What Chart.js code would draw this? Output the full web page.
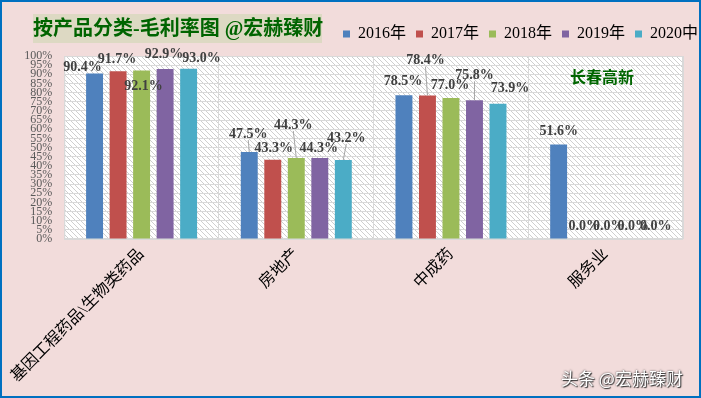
<!DOCTYPE html>
<html>
<head>
<meta charset="utf-8">
<script src="https://cdn.jsdelivr.net/npm/chart.js@4"></script>
<style>
  html, body { margin: 0; padding: 0; }
  body { width: 701px; height: 398px; overflow: hidden; background: #F2DCDB; }
  #wrap { position: relative; width: 701px; height: 398px; box-sizing: border-box; border: 2px solid #0070C0; }
  #chart { position: absolute; left: -2px; top: -2px; }
  .title {
    position: absolute; left: 31px; top: 12px; width: 289px; height: 29px;
    background: #DDD9C3; color: #006400; font: bold 20px "Liberation Serif", "Noto Sans CJK SC", serif;
    line-height: 29px; text-align: center; white-space: nowrap;
  }
  .note {
    position: absolute; left: 568px; top: 62px; color: #006600;
    font: bold 16px "Noto Sans CJK SC", sans-serif; white-space: nowrap;
  }
  .mark {
    position: absolute; left: 559px; top: 363px; color: #fff;
    font: 17px "Noto Sans CJK SC", sans-serif; white-space: nowrap;
    text-shadow: 0 0 2px #333, 1px 1px 1px #333;
  }
</style>
</head>
<body>
<div id="wrap">
  <canvas id="chart" width="701" height="398"></canvas>
  <div class="title">按产品分类-毛利率图 @宏赫臻财</div>
  <div class="note">长春高新</div>
  <div class="mark">头条 @宏赫臻财</div>
</div>
<script>
// categories and series (gross margin %)
const categories = ['基因工程药品\\生物类药品', '房地产', '中成药', '服务业'];
const seriesNames = ['2016年', '2017年', '2018年', '2019年', '2020中'];
const v2016 = [90.4, 47.5, 78.5, 51.6];
const v2017 = [91.7, 43.3, 78.4, 0.0];
const v2018 = [92.1, 44.3, 77.0, 0.0];
const v2019 = [92.9, 44.3, 75.8, 0.0];
const v2020 = [93.0, 43.2, 73.9, 0.0];
const yTicks = [0, 5, 10, 15, 20, 25, 30, 35, 40, 45, 50, 55, 60, 65, 70, 75, 80, 85, 90, 95, 100];

const colors = ['#4F81BD', '#C0504D', '#9BBB59', '#8064A2', '#4BACC6'];
const serif = '"Liberation Serif", "Noto Sans CJK SC", serif';

// label nudges (dx, dy from bar top centre, leader line flag), like the hand-moved Excel labels
const labelNudge = [
    [[-12, -6], [-1, -18, 1], [-1, -14], [0, -13]],
    [[-1, -12], [1, -11], [-2, -35, 1], [2, -13]],
    [[2, 16], [-3, -33, 1], [-1, -13], [3, -13]],
    [[-1, -15], [-1, -10], [0, -25, 1], [4, -13]],
    [[13, -10], [3, -22, 1], [12, -15], [3, -13]]
];

// hatched plot background
function makeHatch() {
    const c = document.createElement('canvas');
    c.width = 5; c.height = 5;
    const g = c.getContext('2d');
    g.fillStyle = '#ffffff';
    g.fillRect(0, 0, 5, 5);
    g.fillStyle = '#CFCFCF';
    for (let i = 0; i < 5; i++) g.fillRect(i, i, 1, 1);
    return g.createPattern(c, 'repeat');
}

const plotBg = {
    id: 'plotBg',
    beforeDraw(chart) {
        const a = chart.chartArea;
        const ctx = chart.ctx;
        ctx.save();
        ctx.fillStyle = makeHatch();
        ctx.fillRect(a.left, a.top, a.right - a.left, a.bottom - a.top);
        ctx.strokeStyle = '#D9D9D9';
        ctx.strokeRect(a.left + 0.5, a.top + 0.5, a.right - a.left - 1, a.bottom - a.top - 1);
        ctx.restore();
    }
};

// make the legend a bit taller and push it to the right edge
const legendTweak = {
    id: 'legendTweak',
    beforeLayout(chart) {
        const lg = chart.legend;
        if (lg && !lg._tweaked) {
            const fit = lg.fit.bind(lg);
            lg.fit = function () { fit(); this.height += 4; };
            lg._tweaked = true;
        }
    },
    afterLayout(chart) {
        const lg = chart.legend;
        lg.left += 25;
        lg.right += 25;
    }
};

const valueLabels = {
    id: 'valueLabels',
    afterDatasetsDraw(chart) {
        const ctx = chart.ctx;
        ctx.save();
        ctx.font = 'bold 14px ' + serif;
        ctx.textAlign = 'center';
        ctx.textBaseline = 'middle';
        chart.data.datasets.forEach((ds, di) => {
            chart.getDatasetMeta(di).data.forEach((bar, i) => {
                const n = labelNudge[di][i];
                const lx = bar.x + n[0], ly = bar.y + n[1];
                if (n[2]) {
                    ctx.strokeStyle = '#A6A6A6';
                    ctx.lineWidth = 1;
                    ctx.beginPath();
                    ctx.moveTo(lx, ly + 6);
                    ctx.lineTo(bar.x, bar.y);
                    ctx.stroke();
                }
                ctx.fillStyle = '#404040';
                ctx.fillText(ds.data[i].toFixed(1) + '%', lx, ly);
            });
        });
        ctx.restore();
    }
};

const seriesValues = [v2016, v2017, v2018, v2019, v2020];

new Chart(document.getElementById('chart'), {
    type: 'bar',
    data: {
        labels: categories,
        datasets: seriesNames.map((name, k) => ({
            label: name,
            data: seriesValues[k],
            backgroundColor: colors[k],
            categoryPercentage: 0.76,
            barPercentage: 0.72
        }))
    },
    options: {
        responsive: false,
        animation: false,
        layout: { padding: { top: 16, right: 18, left: 0, bottom: 0 } },
        plugins: {
            legend: {
                align: 'end',
                labels: {
                    boxWidth: 7, boxHeight: 7, padding: 10,
                    color: '#000', font: { family: serif, size: 16 }
                }
            },
            tooltip: { enabled: false }
        },
        scales: {
            x: {
                grid: { color: '#D9D9D9', drawTicks: false },
                border: { display: false },
                ticks: {
                    maxRotation: 45, minRotation: 45, padding: 6,
                    color: '#000', font: { family: serif, size: 16 }
                },
                afterFit(s) { s.height = 159; }
            },
            y: {
                min: 0, max: 100,
                grid: { color: '#D9D9D9', drawTicks: false },
                border: { display: false },
                afterBuildTicks(s) { s.ticks = yTicks.map(v => ({ value: v })); },
                ticks: {
                    autoSkip: false, padding: 12,
                    color: '#595959', font: { family: serif, size: 12 },
                    callback: v => v + '%'
                },
                afterFit(s) { s.width = 64; }
            }
        }
    },
    plugins: [plotBg, legendTweak, valueLabels]
});
</script>
</body>
</html>
